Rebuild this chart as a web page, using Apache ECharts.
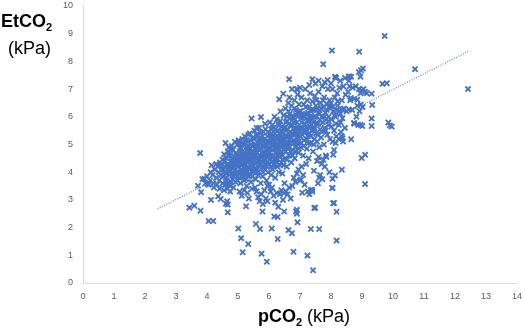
<!DOCTYPE html>
<html>
<head>
<meta charset="utf-8">
<script src="https://cdn.jsdelivr.net/npm/echarts@6/dist/echarts.min.js"></script>
<style>html,body{margin:0;padding:0;background:#fff}#c{width:525px;height:333px}</style>
</head>
<body>
<div id="c"></div>
<script>
// x ticks and y ticks
const xTicks = [0,1,2,3,4,5,6,7,8,9,10,11,12,13,14];
const yTicks = [0,1,2,3,4,5,6,7,8,9,10];
// linear trendline end points (pCO2, EtCO2)
const trendX = [2.4, 12.42];
const trendY = [2.67, 8.36];
// core cloud readings [pCO2, EtCO2]
const coreLeft = [
[3.85,3.75],[3.95,3.6],[4.0,3.85],[4.05,3.55],[4.1,3.7],[4.12,4.0],[4.18,3.9],[4.2,3.6],[4.25,4.1],[4.3,3.8],[4.32,3.55],[4.35,4.2],[4.38,4.0],[4.4,3.7],[4.42,4.35],[4.45,3.9],[4.48,4.1],[4.5,3.6],[4.5,4.45],[4.3,4.3],[4.15,4.25],[4.22,3.45],[4.4,3.4],[4.55,3.35],
[4.55,4.0],[4.58,4.2],[4.6,3.8],[4.62,4.5],[4.65,3.6],[4.68,4.3],[4.7,4.05],[4.72,3.9],[4.74,4.6],[4.75,3.5],[4.78,4.4],[4.8,4.15],[4.82,3.75],[4.84,4.8],[4.85,3.95],[4.88,4.55],[4.9,4.25],[4.92,3.65],[4.94,4.7],[4.95,4.0],[4.97,5.0],[4.98,3.85],[4.6,5.05],[4.7,4.9],[4.75,3.3],[4.65,3.4],[4.85,3.45],[4.9,5.1],[4.55,4.65],[4.8,4.95],[4.66,4.1],[4.73,4.25],[4.87,4.35],[4.93,4.45],[4.62,3.95],[4.78,3.65],
[5.0,4.2],[5.02,4.6],[5.04,3.8],[5.05,5.0],[5.07,4.4],[5.08,3.6],[5.1,4.85],[5.12,4.1],[5.14,5.2],[5.15,3.95],[5.17,4.5],[5.18,4.7],[5.2,3.7],[5.22,5.3],[5.23,4.3],[5.25,4.05],[5.27,4.9],[5.28,3.5],[5.3,4.6],[5.32,5.1],[5.33,4.2],[5.35,3.85],[5.37,4.75],[5.38,5.4],[5.4,4.4],[5.42,3.65],[5.43,5.0],[5.45,4.15],[5.47,4.55],[5.48,5.25],[5.05,3.3],[5.12,3.15],[5.2,3.35],[5.3,3.25],[5.35,3.05],[5.45,3.4],[5.1,4.0],[5.15,4.3],[5.25,4.45],[5.35,4.65],[5.4,4.85],[5.28,4.0],[5.18,4.15],[5.45,4.3],[5.02,5.15],[5.33,5.35],[5.22,3.9],[5.38,4.1]
];
const coreMid = [
[5.5,4.0],[5.52,4.7],[5.53,5.5],[5.55,4.3],[5.57,3.75],[5.58,5.0],[5.6,4.5],[5.62,4.1],[5.63,5.3],[5.65,3.9],[5.67,4.8],[5.68,5.6],[5.7,4.25],[5.72,4.6],[5.73,3.6],[5.75,5.15],[5.77,4.4],[5.78,4.95],[5.8,3.85],[5.82,5.45],[5.83,4.15],[5.85,4.7],[5.87,5.75],[5.88,4.3],[5.9,5.05],[5.92,3.7],[5.93,4.55],[5.95,5.3],[5.97,4.0],[5.98,4.85],[5.55,3.45],[5.6,3.3],[5.65,3.1],[5.7,2.95],[5.75,3.2],[5.8,2.85],[5.85,3.35],[5.9,3.05],[5.95,3.5],[5.58,4.6],[5.66,4.4],[5.74,4.55],[5.81,4.6],[5.89,4.45],[5.96,4.65],[5.62,4.9],[5.7,5.05],[5.79,4.2],[5.86,5.2],[5.94,4.2],[5.6,5.6],[5.52,5.2],
[6.0,4.3],[6.02,5.1],[6.03,5.8],[6.05,4.6],[6.07,3.9],[6.08,5.4],[6.1,4.8],[6.12,4.1],[6.13,5.6],[6.15,5.0],[6.17,4.45],[6.18,6.0],[6.2,3.8],[6.22,5.25],[6.23,4.7],[6.25,5.9],[6.27,4.2],[6.28,5.5],[6.3,4.95],[6.32,4.0],[6.33,5.7],[6.35,4.55],[6.37,6.2],[6.38,5.15],[6.4,4.35],[6.42,5.45],[6.43,3.95],[6.45,5.05],[6.47,6.05],[6.48,4.8],[6.0,3.55],[6.05,3.3],[6.1,3.45],[6.15,3.15],[6.2,2.9],[6.25,3.25],[6.3,2.75],[6.35,3.2],[6.4,3.35],[6.45,3.0],[6.08,4.95],[6.14,5.3],[6.21,4.9],[6.26,5.2],[6.34,5.1],[6.41,5.25],[6.46,5.6],[6.06,5.25],[6.19,5.4],[6.29,4.6],[6.39,4.75],[6.44,4.6],[6.11,4.4],[6.24,4.45],[6.36,5.35],[6.03,4.85],
[6.5,5.2],[6.52,4.5],[6.53,6.3],[6.55,5.5],[6.57,4.2],[6.58,5.85],[6.6,4.9],[6.62,6.5],[6.63,5.3],[6.65,4.6],[6.67,6.1],[6.68,5.05],[6.7,5.7],[6.72,4.35],[6.73,6.4],[6.75,5.4],[6.77,4.8],[6.78,6.0],[6.8,5.15],[6.82,6.6],[6.83,4.5],[6.85,5.6],[6.87,6.25],[6.88,4.95],[6.9,5.8],[6.92,6.8],[6.93,5.25],[6.95,4.7],[6.97,6.45],[6.98,5.5],[6.5,3.6],[6.55,3.3],[6.6,3.2],[6.65,3.45],[6.7,3.05],[6.75,3.5],[6.8,3.8],[6.85,3.65],[6.9,3.95],[6.95,4.1],[6.56,5.0],[6.64,5.75],[6.71,5.25],[6.79,5.55],[6.86,5.35],[6.94,6.0],[6.59,6.0],[6.69,4.75],[6.76,5.95],[6.84,5.05],[6.91,6.15],[6.54,4.75],[6.66,6.7],[6.81,6.3],[6.96,5.1]
];
const coreRight = [
[7.0,5.6],[7.02,6.2],[7.03,4.9],[7.05,6.7],[7.07,5.35],[7.08,5.95],[7.1,4.6],[7.12,6.45],[7.13,5.15],[7.15,5.75],[7.17,7.0],[7.18,5.45],[7.2,6.1],[7.22,4.85],[7.23,6.6],[7.25,5.3],[7.27,5.9],[7.28,4.5],[7.3,6.35],[7.32,5.65],[7.33,6.85],[7.35,5.05],[7.37,6.0],[7.38,5.5],[7.4,6.55],[7.42,4.75],[7.43,5.8],[7.45,6.25],[7.47,5.2],[7.48,6.75],[7.0,3.7],[7.05,4.2],[7.1,3.9],[7.2,4.3],[7.25,3.3],[7.3,3.2],[7.35,3.35],[7.4,3.3],[7.45,4.05],[7.15,3.55],[7.06,5.8],[7.14,6.0],[7.21,5.6],[7.29,5.85],[7.36,6.2],[7.44,5.55],[7.11,5.5],[7.26,6.15],[7.39,5.95],[7.19,6.35],[7.31,5.4],[7.46,6.0],
[7.5,6.0],[7.52,5.4],[7.53,6.6],[7.55,5.1],[7.57,6.3],[7.58,5.75],[7.6,6.9],[7.62,4.9],[7.63,6.1],[7.65,5.55],[7.67,6.5],[7.68,5.25],[7.7,6.0],[7.72,7.1],[7.73,5.8],[7.75,6.35],[7.77,5.0],[7.78,6.7],[7.8,5.6],[7.82,6.15],[7.83,4.6],[7.85,5.9],[7.87,6.45],[7.88,5.35],[7.9,7.0],[7.92,6.0],[7.93,5.7],[7.95,6.6],[7.97,5.2],[7.98,6.3],[7.55,4.4],[7.6,4.55],[7.7,4.3],[7.75,4.45],[7.8,4.2],[7.65,3.9],[7.72,3.75],[7.58,3.6],[7.85,4.55],[7.95,4.0],
[8.0,6.5],[8.02,5.9],[8.05,7.0],[8.07,6.2],[8.1,5.5],[8.12,6.7],[8.15,6.0],[8.17,5.3],[8.2,6.85],[8.22,6.4],[8.25,5.7],[8.27,7.05],[8.3,6.1],[8.32,5.45],[8.35,6.6],[8.37,5.95],[8.4,7.1],[8.42,6.3],[8.45,5.6],[8.47,6.8],[8.1,4.8],[8.15,5.05],[8.25,5.2],[8.05,5.1],[8.35,5.3],[8.2,6.25],[8.3,7.3],[8.45,7.4],
[8.5,6.2],[8.55,6.9],[8.6,7.1],[8.62,6.6],[8.68,6.25],[8.7,7.05],[8.75,6.65],[8.8,7.1],[8.82,6.0],[8.85,6.4],[8.9,7.0],[8.95,6.85],[9.0,6.95],[9.05,7.0],[9.1,6.9],[8.58,7.3],[8.65,7.45],[8.75,5.75],[8.88,5.7],[8.92,6.2],[9.02,6.35],[8.95,7.45],[9.15,6.85],
[7.5,7.2],[7.6,7.3],[7.8,7.25],[8.0,7.2],[8.15,7.4],[7.3,7.15],[7.0,7.05],[6.9,7.0]
];
// extra readings inside the dense centre of the cloud
const coreFill = [
[4.45,4.25],[4.52,3.85],[4.57,4.4],[4.63,3.7],[4.69,4.6],[4.71,3.55],[4.76,4.05],[4.81,4.5],[4.86,3.85],[4.91,4.1],[4.96,4.3],[4.99,3.7],[4.53,4.1],[4.59,3.55],[4.64,4.25],[4.67,4.75],[4.77,4.8],[4.83,4.25],[4.89,3.95],[4.95,4.6],
[5.01,4.45],[5.03,4.0],[5.06,4.75],[5.09,4.25],[5.11,5.05],[5.13,3.85],[5.16,4.65],[5.19,4.4],[5.21,5.0],[5.24,4.6],[5.26,3.75],[5.29,4.8],[5.31,4.35],[5.34,4.95],[5.36,3.95],[5.39,4.5],[5.41,5.15],[5.44,4.7],[5.46,3.85],[5.49,4.95],[5.04,4.35],[5.14,4.55],[5.23,4.15],[5.32,4.45],[5.42,4.25],[5.08,4.9],[5.27,5.15],[5.47,4.05],
[5.51,4.45],[5.54,4.85],[5.56,4.15],[5.59,5.35],[5.61,4.7],[5.64,4.0],[5.66,5.15],[5.69,4.6],[5.71,5.45],[5.74,4.3],[5.76,4.85],[5.79,5.3],[5.81,4.0],[5.84,4.95],[5.86,4.45],[5.89,5.55],[5.91,4.8],[5.94,4.35],[5.96,5.1],[5.99,4.55],[5.57,4.95],[5.63,4.5],[5.68,4.3],[5.72,5.25],[5.78,4.7],[5.83,5.1],[5.88,4.1],[5.93,5.0],[5.97,5.45],[5.53,4.05],
[6.01,4.7],[6.04,5.35],[6.06,4.2],[6.09,5.0],[6.11,5.7],[6.14,4.6],[6.16,5.2],[6.19,4.85],[6.21,5.55],[6.24,4.35],[6.26,5.05],[6.29,5.75],[6.31,4.7],[6.34,5.4],[6.36,4.25],[6.39,5.0],[6.41,5.65],[6.44,4.45],[6.46,5.3],[6.49,5.0],[6.02,4.45],[6.12,5.15],[6.22,4.55],[6.32,5.25],[6.42,4.9],[6.07,5.55],[6.17,4.25],[6.27,4.9],[6.37,5.85],[6.47,4.25],
[6.51,5.6],[6.53,4.95],[6.56,5.3],[6.58,4.45],[6.61,5.55],[6.63,6.2],[6.66,4.9],[6.68,5.45],[6.71,6.0],[6.73,5.1],[6.76,4.6],[6.78,5.35],[6.81,5.8],[6.83,4.75],[6.86,5.45],[6.88,6.05],[6.91,5.1],[6.93,5.6],[6.96,4.85],[6.99,6.2],[6.55,5.8],[6.65,5.15],[6.75,5.7],[6.85,4.9],[6.95,5.35],
[7.01,5.3],[7.04,5.05],[7.07,6.05],[7.09,5.6],[7.12,4.95],[7.16,5.45],[7.19,6.1],[7.22,5.2],[7.24,5.85],[7.27,5.05],[7.31,6.0],[7.34,5.3],[7.37,5.7],[7.41,6.25],[7.44,5.0],[7.47,5.6],[7.51,6.4],[7.54,5.75],[7.57,5.35],[7.6,6.15],
[7.64,5.9],[7.68,6.3],[7.71,5.45],[7.74,6.6],[7.79,6.0],[7.83,5.5],[7.86,6.25],[7.91,5.85],[7.96,6.4],[8.01,5.65],[8.06,6.35],[8.11,6.05],[8.16,5.75],[8.21,6.55],[8.26,6.2],[8.31,5.8]
];
// sparse / outlying readings
const outer = [
[9.73,8.92],[8.03,8.39],[8.91,8.35],[7.75,7.9],[10.71,7.72],[12.42,7.0],[8.97,7.68],[9.03,7.74],[8.9,7.62],[9.66,7.19],[9.8,7.21],[9.31,6.83],[9.33,6.43],[9.31,5.94],[9.31,5.67],[9.85,5.79],[9.9,5.69],[9.96,5.65],[9.01,5.67],[8.65,5.19],[8.39,5.11],[9.1,4.63],[8.99,4.51],[9.1,3.57],[8.35,4.09],[8.07,4.63],[8.13,3.88],[8.05,3.76],[8.05,3.43],[8.07,2.88],[8.18,2.57],[8.18,1.53],[7.42,0.46],[7.24,0.99],[6.79,1.13],[5.93,0.77],[5.76,1.06],[5.15,1.11],[5.33,1.41],[5.1,1.62],[5.01,1.97],[5.71,1.95],[5.58,2.13],[6.09,1.97],[6.28,1.59],[6.63,1.91],[6.74,1.8],[6.92,2.19],[7.35,1.95],[7.62,1.95],[6.17,2.4],[6.28,2.38],[6.9,2.64],[6.9,2.5],[7.49,2.72],[4.05,2.24],[4.2,2.24],[3.43,2.72],[3.59,2.79],[3.79,2.61],[4.67,2.55],[3.78,4.69],[3.71,3.51],[3.81,3.28],[3.92,3.76],[4.02,3.57],[4.13,3.0],[4.36,3.13],[4.44,3.03],[4.61,2.86],[4.65,2.95],[5.44,5.94],[5.74,5.99],[6.65,7.36],[6.74,7.0],[7.4,7.36],[8.13,7.45],[7.89,7.33],[6.33,6.63],[6.46,6.83],[4.67,2.83],[6.49,2.58],[6.87,2.58],[7.46,2.71],[8.1,2.89],[5.26,2.77],[5.79,2.58],[5.95,2.95],[6.49,3.25],[7.07,3.26],[7.39,3.37],[8.04,3.43],[7.03,3.73],[7.62,3.8],[6.92,6.98],
[8.74,5.78],[8.96,5.71],[8.37,5.23],[8.16,7.4],[8.58,7.46],[8.85,6.62],[8.64,6.68],[8.96,6.44],[8.37,6.26],[8.58,6.26]
];

const allPoints = coreLeft.concat(coreMid, coreRight, coreFill, outer);
const trendData = trendX.map((x, i) => [x, trendY[i]]);

const BLUE = '#4472C4';
const XMARK = 'path://M0,2L2,0L5,3L8,0L10,2L7,5L10,8L8,10L5,7L2,10L0,8L3,5Z';
const chart = echarts.init(document.getElementById('c'), null, {renderer: 'canvas'});
const axisLabel = {color: '#595959', fontSize: 9, fontFamily: 'Liberation Sans, Arial, sans-serif'};
chart.setOption({
  animation: false,
  grid: {left: 83, right: 7, top: 6, bottom: 50, containLabel: false},
  xAxis: {
    type: 'value', min: xTicks[0], max: xTicks[xTicks.length - 1], interval: 1,
    axisLine: {show: true, lineStyle: {color: '#D9D9D9', width: 1}},
    axisTick: {show: false}, splitLine: {show: false},
    axisLabel: Object.assign({margin: 9}, axisLabel)
  },
  yAxis: {
    type: 'value', min: yTicks[0], max: yTicks[yTicks.length - 1], interval: 1,
    axisLine: {show: true, lineStyle: {color: '#D9D9D9', width: 1}},
    axisTick: {show: false}, splitLine: {show: false},
    axisLabel: Object.assign({margin: 10}, axisLabel)
  },
  series: [
    {
      type: 'scatter', data: allPoints, symbol: XMARK, symbolSize: 6.5,
      itemStyle: {color: BLUE, opacity: 1}, silent: true, z: 3
    },
    {
      type: 'line', data: trendData, symbol: 'none', silent: true, z: 2,
      lineStyle: {color: '#5B85D0', width: 1.2, type: [1, 1.5]}
    }
  ],
  graphic: [
    {
      type: 'text', left: 1, top: 13,
      style: {
        text: '{b|EtCO}{s|2}',
        rich: {
          b: {fontSize: 18, fontWeight: 'bold', fontFamily: 'Liberation Sans, Arial', fill: '#000', lineHeight: 22},
          s: {fontSize: 11, fontWeight: 'bold', fontFamily: 'Liberation Sans, Arial', fill: '#000', lineHeight: 10, verticalAlign: 'bottom'}
        }
      }
    },
    {
      type: 'text', left: 8, top: 40,
      style: {text: '(kPa)', font: '18px Liberation Sans, Arial', fill: '#000'}
    },
    {
      type: 'text', left: 258, top: 308,
      style: {
        text: '{b|pCO}{s|2}{r| (kPa)}',
        rich: {
          b: {fontSize: 18, fontWeight: 'bold', fontFamily: 'Liberation Sans, Arial', fill: '#000', lineHeight: 22},
          s: {fontSize: 11, fontWeight: 'bold', fontFamily: 'Liberation Sans, Arial', fill: '#000', lineHeight: 10, verticalAlign: 'bottom'},
          r: {fontSize: 18, fontFamily: 'Liberation Sans, Arial', fill: '#000', lineHeight: 22}
        }
      }
    }
  ]
});
</script>
</body>
</html>
